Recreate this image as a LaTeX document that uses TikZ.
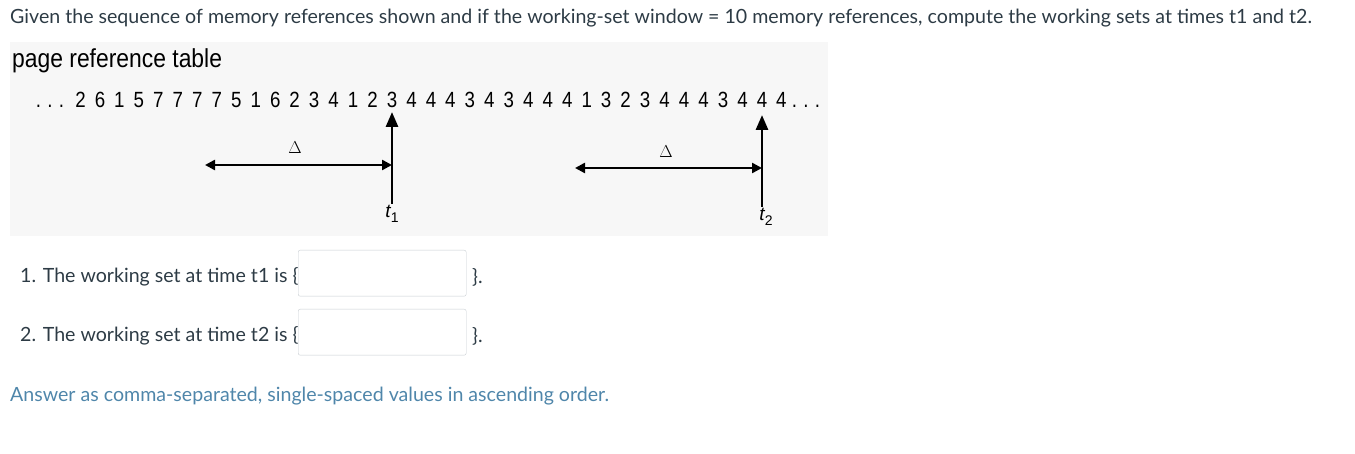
\documentclass[tikz,border=0pt]{standalone}
\usepackage{fontspec}
\setmainfont{Lato}
\newfontfamily\arial{Liberation Sans}
\usetikzlibrary{arrows.meta}
\definecolor{qblue}{HTML}{4F86AA}
\definecolor{txt}{HTML}{2D3B45}
\definecolor{figbg}{HTML}{F7F7F7}
\definecolor{boxc}{HTML}{C7CDD1}
\begin{document}
\begin{tikzpicture}[x=1pt,y=-1pt,
  body/.style={font=\fontsize{19.6}{22}\selectfont,text=txt,inner sep=0,anchor=west},
  dig/.style={font=\arial\fontsize{22}{24}\selectfont,inner sep=0,anchor=base,xscale=0.85},
  arr/.style={line width=2.8pt,-{Triangle[length=15pt,width=12pt]}},
  harr/.style={line width=2.4pt,{Triangle[length=10pt,width=10pt]}-{Triangle[length=10pt,width=10pt]}},
  ansbox/.style={draw=boxc,rounded corners=2pt,minimum width=168pt,minimum height=46pt,inner sep=0,anchor=north west}]
\useasboundingbox (0,0) rectangle (1355,454);
\fill[figbg] (10,42) rectangle (828,236);
\fill[white!97!black] (200,120) rectangle (828,236);
\node[body] (title) at (10,18) {Given the sequence of memory references shown and if the working-set window = 10 memory references, compute the working sets at times t1 and t2.};
\node[font=\arial\fontsize{26}{28}\selectfont,inner sep=0,anchor=west,xscale=0.88] (ptab) at (12,61) {page reference table};
\node[dig] (ldots) at (50,108) {.\,\,.\,\,.};
\foreach \d [count=\i from 0] in {2,6,1,5,7,7,7,7,5,1,6,2,3,4,1,2,3,4,4,4,3,4,3,4,4,4,1,3,2,3,4,4,4,3,4,4,4}
  \node[dig] (d\i) at (80.5+19.47*\i,108) {\d};
\node[dig] (rdots) at (806,108) {.\,\,.\,\,.};
\coordinate (b1) at (392,204);
\coordinate (b2) at (762,207);
\draw[arr] (b1) -- (392,112);
\draw[arr] (b2) -- (762,115);
\coordinate (l1) at (205,165);
\coordinate (l2) at (575,168);
\draw[harr] (l1) -- (392,165);
\draw[harr] (l2) -- (762,168);
\node[font=\fontsize{18}{20}\selectfont] (D1) at (295,148) {$\Delta$};
\node[font=\fontsize{18}{20}\selectfont] (D2) at (666,152) {$\Delta$};
\node[font=\arial\fontsize{19}{20}\selectfont\itshape,inner sep=0,anchor=north] (t1) at (392,205) {t\raisebox{-5pt}{\upshape\fontsize{14}{15}\selectfont 1}};
\node[font=\arial\fontsize{19}{20}\selectfont\itshape,inner sep=0,anchor=north] (t2) at (766,208) {t\raisebox{-5pt}{\upshape\fontsize{14}{15}\selectfont 2}};
\node[body] (q1) at (20,277) {1. The working set at time t1 is \{};
\node[ansbox] (a1) at (298,250) {};
\node[body] (c1) at (472,277) {\}.};
\node[body] (q2) at (20,336) {2. The working set at time t2 is \{};
\node[ansbox] (a2) at (298,309) {};
\node[body] (c2) at (472,336) {\}.};
\node[body,text=qblue] (note) at (10,396) {Answer as comma-separated, single-spaced values in ascending order.};
\end{tikzpicture}
\end{document}
